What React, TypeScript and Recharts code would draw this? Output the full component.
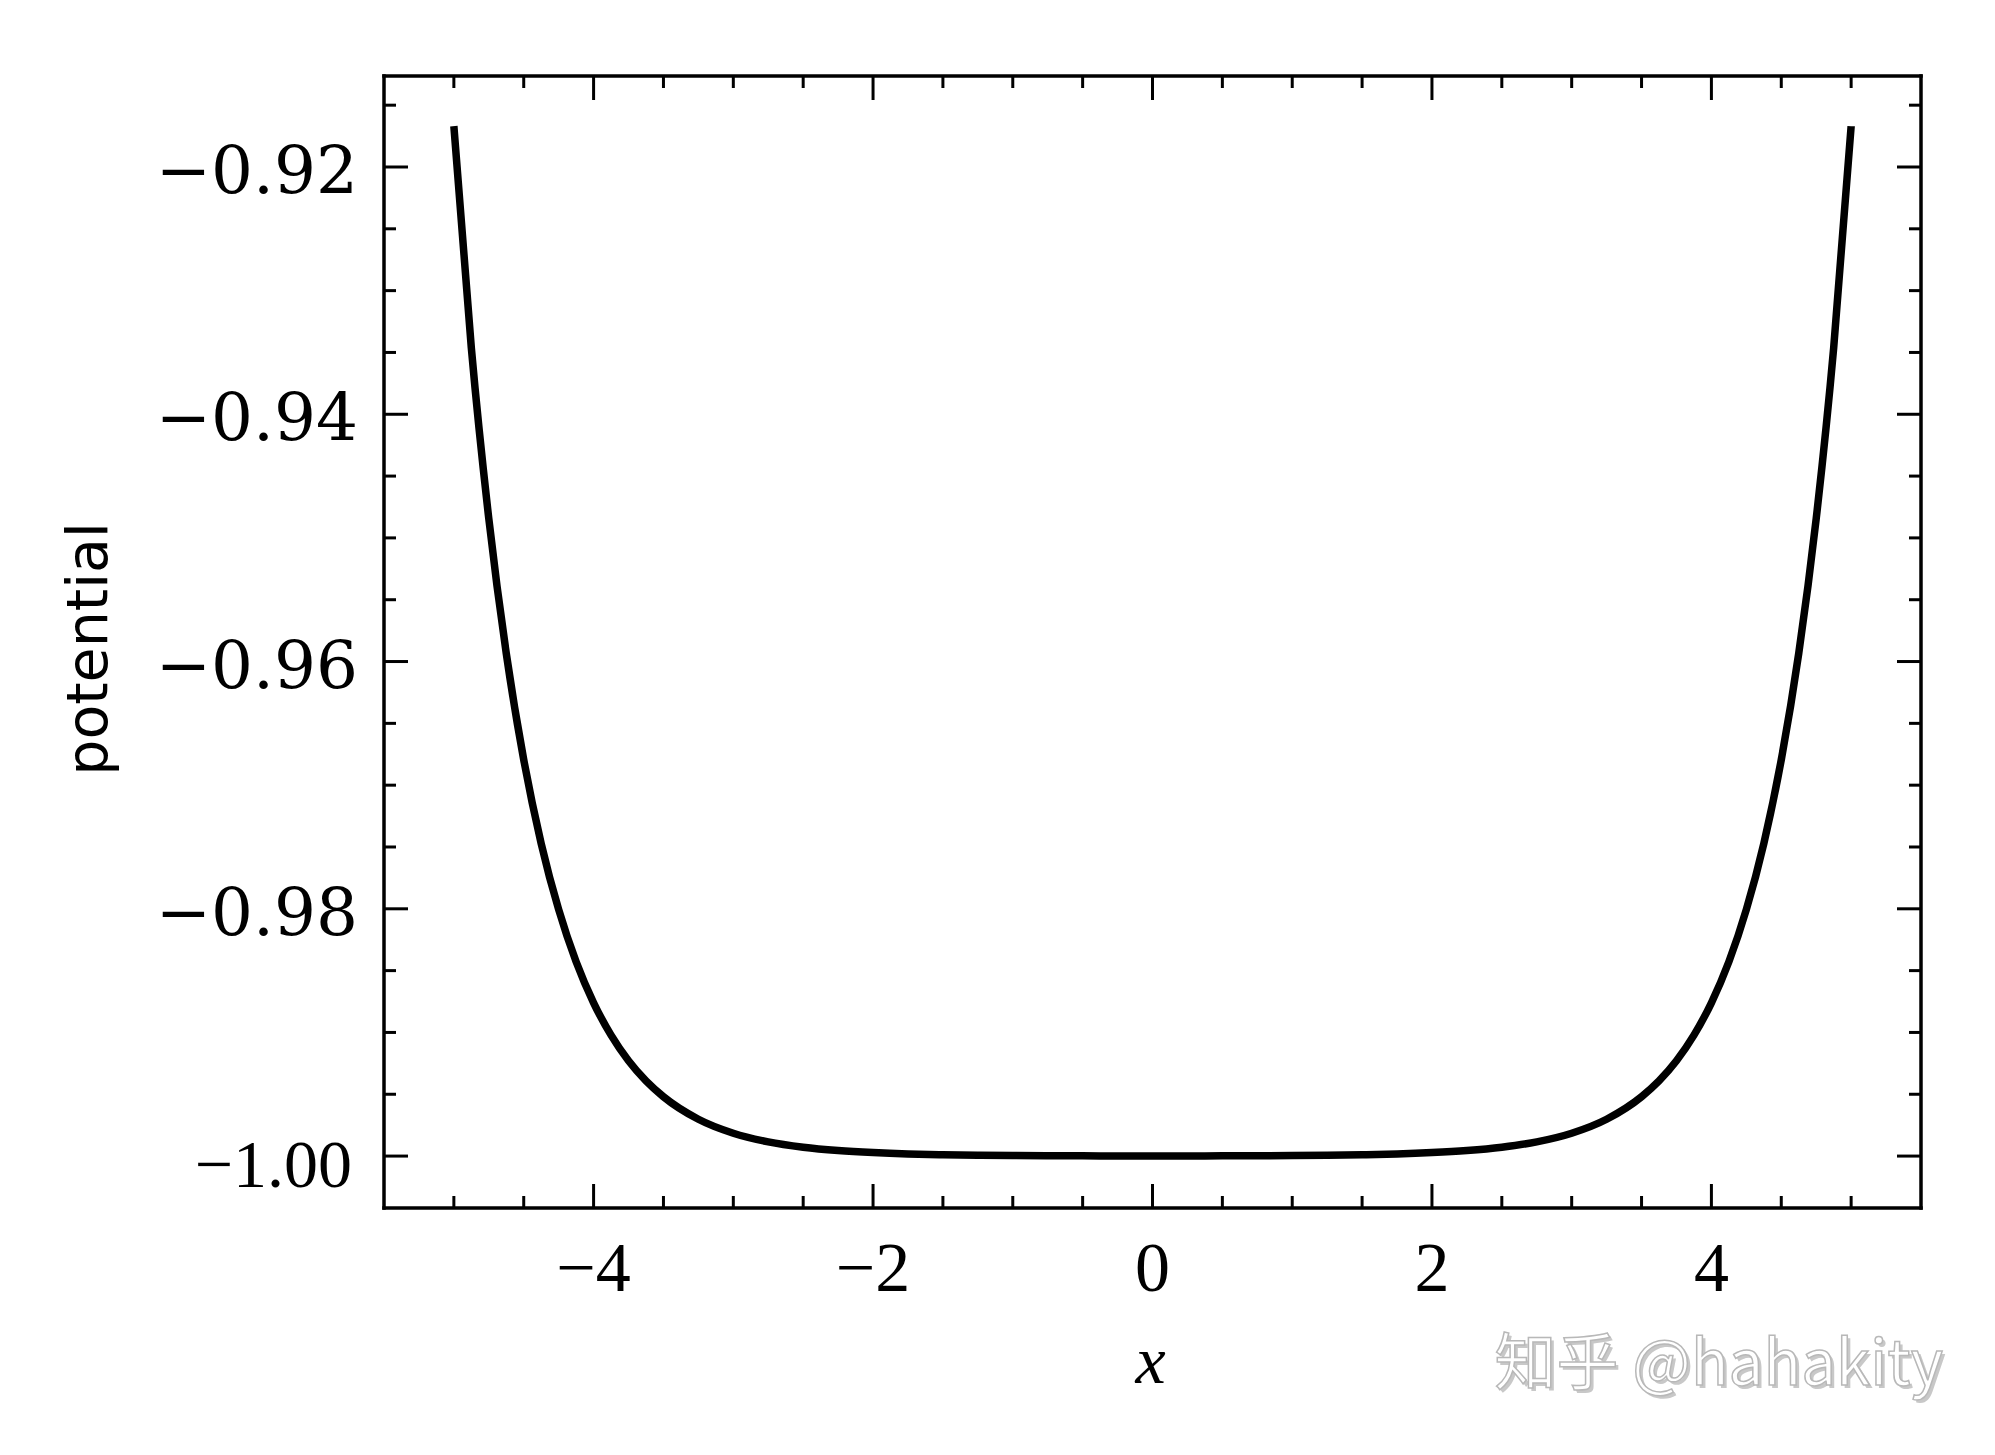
import { LineChart, Line, XAxis, YAxis, Label } from "recharts";

const X_VALUES = [
  -5, -4.875, -4.75, -4.625, -4.5, -4.375, -4.25, -4.125, -4, -3.875, -3.75, -3.625, -3.5,
  -3.25, -3, -2.75, -2.5, -2.25, -2, -1.75, -1.5, -1.25, -1, -0.75, -0.5, -0.25, 0,
  0.25, 0.5, 0.75, 1, 1.25, 1.5, 1.75, 2, 2.25, 2.5, 2.75, 3, 3.25,
  3.5, 3.625, 3.75, 3.875, 4, 4.125, 4.25, 4.375, 4.5, 4.625, 4.75, 4.875, 5,
];
const POTENTIAL = [
  -0.9167, -0.93463, -0.94844, -0.95934, -0.96794, -0.97472, -0.98006, -0.98428, -0.9876, -0.99022, -0.99229, -0.99392, -0.9952,
  -0.99702, -0.99815, -0.99885, -0.99928, -0.99955, -0.99972, -0.99983, -0.99989, -0.99993, -0.99996, -0.99997, -0.99998, -0.99999, -1.0,
  -0.99999, -0.99998, -0.99997, -0.99996, -0.99993, -0.99989, -0.99983, -0.99972, -0.99955, -0.99928, -0.99885, -0.99815, -0.99702,
  -0.9952, -0.99392, -0.99229, -0.99022, -0.9876, -0.98428, -0.98006, -0.97472, -0.96794, -0.95934, -0.94844, -0.93463, -0.9167,
];

const X_TICKS = [-5, -4.5, -4, -3.5, -3, -2.5, -2, -1.5, -1, -0.5, 0, 0.5, 1, 1.5, 2, 2.5, 3, 3.5, 4, 4.5, 5];
const X_MAJOR = [-4, -2, 0, 2, 4];
const Y_TICKS = [
  -1, -0.995, -0.99, -0.985, -0.98, -0.975, -0.97, -0.965, -0.96, -0.955,
  -0.95, -0.945, -0.94, -0.935, -0.93, -0.925, -0.92, -0.915,
];
const Y_MAJOR = [-1, -0.98, -0.96, -0.94, -0.92];

const X_DOMAIN = [-5.5, 5.5];
const Y_DOMAIN = [-1.0042, -0.91264];

const data = X_VALUES.map((x, i) => ({ x, v: POTENTIAL[i] }));

const MAJOR_LEN = 24;
const MINOR_LEN = 12;
const isMajor = (list: number[], v: number) => list.some((m) => Math.abs(m - v) < 1e-9);
const minus = (s: string) => s.replace("-", "\u2212");

const BottomTick = ({ x, y, payload }: any) => {
  const major = isMajor(X_MAJOR, payload.value);
  return (
    <g>
      <line x1={x} x2={x} y1={y} y2={y - (major ? MAJOR_LEN : MINOR_LEN)} stroke="#000" strokeWidth={3} />
      {major && (
        <text x={x} y={y + 83} textAnchor="middle" fontFamily="'Liberation Serif', serif" fontSize={70} fill="#000">
          {minus(String(payload.value))}
        </text>
      )}
    </g>
  );
};

const TopTick = ({ x, y, payload }: any) => {
  const major = isMajor(X_MAJOR, payload.value);
  return <line x1={x} x2={x} y1={y} y2={y + (major ? MAJOR_LEN : MINOR_LEN)} stroke="#000" strokeWidth={3} />;
};

const LeftTick = ({ x, y, payload }: any) => {
  const major = isMajor(Y_MAJOR, payload.value);
  const isOne = Math.abs(payload.value + 1) < 1e-9;
  return (
    <g>
      <line x1={x} x2={x + (major ? MAJOR_LEN : MINOR_LEN)} y1={y} y2={y} stroke="#000" strokeWidth={3} />
      {major && (
        <text
          x={isOne ? x - 32 : x - 26}
          y={isOne ? y + 31 : y + 26}
          textAnchor="end"
          fontFamily={isOne ? "'Liberation Serif', serif" : "'DejaVu Serif', serif"}
          fontSize={isOne ? 68 : 66}
          fill="#000"
        >
          {minus(payload.value.toFixed(2))}
        </text>
      )}
    </g>
  );
};

const RightTick = ({ x, y, payload }: any) => {
  const major = isMajor(Y_MAJOR, payload.value);
  return <line x1={x} x2={x - (major ? MAJOR_LEN : MINOR_LEN)} y1={y} y2={y} stroke="#000" strokeWidth={3} />;
};

const XTitle = ({ viewBox }: any) => {
  const vb = viewBox ?? { x: 384, y: 1208, width: 1537 };
  return (
    <text x={vb.x + vb.width / 2 - 2} y={vb.y + 175} textAnchor="middle" fontFamily="'Liberation Serif', serif" fontStyle="italic" fontSize={68} fill="#000">
      x
    </text>
  );
};

const YTitle = ({ viewBox }: any) => {
  const vb = viewBox ?? { x: 0, y: 76, width: 384, height: 1132 };
  const cy = vb.y + vb.height / 2 + 7;
  return (
    <text transform={`translate(107, ${cy}) rotate(-90)`} textAnchor="middle" fontFamily="'DejaVu Sans', sans-serif" fontSize={57} fill="#000">
      potential
    </text>
  );
};

const axisLine = { stroke: "#000", strokeWidth: 3.5, strokeLinecap: "square" as const };

export default function App() {
  return (
    <div style={{ position: "absolute", left: 0, top: 0, width: 1995, height: 1455, background: "#fff" }}>
      <LineChart width={1995} height={1455} data={data} margin={{ top: 75, right: 73, left: 0, bottom: 0 }}>
        <XAxis
          xAxisId="bottom"
          dataKey="x"
          type="number"
          domain={X_DOMAIN}
          allowDataOverflow
          ticks={X_TICKS}
          interval={0}
          height={247}
          tickSize={0}
          tickMargin={0}
          tickLine={false}
          axisLine={axisLine}
          tick={<BottomTick />}
        >
          <Label content={<XTitle />} />
        </XAxis>
        <XAxis
          xAxisId="top"
          orientation="top"
          dataKey="x"
          type="number"
          domain={X_DOMAIN}
          allowDataOverflow
          ticks={X_TICKS}
          interval={0}
          height={1}
          tickSize={0}
          tickMargin={0}
          tickLine={false}
          axisLine={axisLine}
          tick={<TopTick />}
        />
        <YAxis
          yAxisId="left"
          type="number"
          domain={Y_DOMAIN}
          allowDataOverflow
          ticks={Y_TICKS}
          interval={0}
          width={384}
          tickSize={0}
          tickMargin={0}
          tickLine={false}
          axisLine={axisLine}
          tick={<LeftTick />}
        >
          <Label content={<YTitle />} />
        </YAxis>
        <YAxis
          yAxisId="right"
          orientation="right"
          type="number"
          domain={Y_DOMAIN}
          allowDataOverflow
          ticks={Y_TICKS}
          interval={0}
          width={1}
          tickSize={0}
          tickMargin={0}
          tickLine={false}
          axisLine={axisLine}
          tick={<RightTick />}
        />
        {/* invisible twin so the mirrored top/right axes get drawn */}
        <Line
          xAxisId="top"
          yAxisId="right"
          dataKey="v"
          type="monotone"
          stroke="transparent"
          strokeWidth={0}
          dot={false}
          activeDot={false}
          legendType="none"
          isAnimationActive={false}
        />
        <Line
          xAxisId="bottom"
          yAxisId="left"
          dataKey="v"
          type="monotone"
          stroke="#000"
          strokeWidth={7.5}
          dot={false}
          activeDot={false}
          isAnimationActive={false}
        />
      </LineChart>
      <svg width={1995} height={1455} style={{ position: "absolute", left: 0, top: 0, pointerEvents: "none" }}>
        <g fontFamily="'Noto Sans CJK SC', 'Noto Sans', sans-serif" fontSize={62} textAnchor="end">
          <text x={1946} y={1388} fill="#c8c8c8">知乎 @hahakity</text>
          <text x={1943} y={1385} fill="#fff" stroke="#b8b8b8" strokeWidth={1.5}>知乎 @hahakity</text>
        </g>
      </svg>
    </div>
  );
}
